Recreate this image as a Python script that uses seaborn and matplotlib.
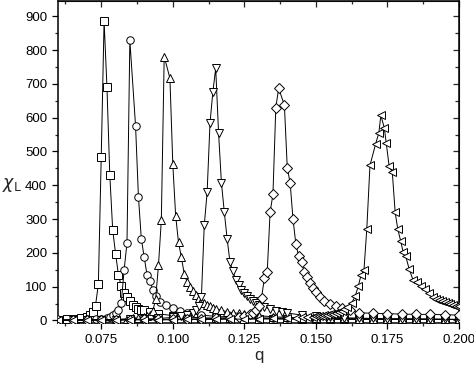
import matplotlib
matplotlib.use("Agg")
import matplotlib.pyplot as plt
import seaborn as sns
import numpy as np

# ---- data ----
q_sq = [0.060, 0.063, 0.066, 0.068, 0.070, 0.071, 0.072, 0.073, 0.074, 0.075, 0.076, 0.077, 0.078, 0.079,
        0.080, 0.081, 0.082, 0.083, 0.084, 0.085, 0.086, 0.087, 0.088, 0.089, 0.090, 0.092, 0.095, 0.100,
        0.105, 0.110, 0.115, 0.120, 0.125, 0.130, 0.135, 0.140, 0.145, 0.150, 0.155, 0.160, 0.165, 0.170,
        0.175, 0.180, 0.185, 0.190, 0.195, 0.200]
chi_sq = [2, 3, 4, 6, 10, 17, 25, 44, 108, 484, 886, 690, 429, 269, 198, 136, 101, 81, 68, 58, 47, 40, 35,
          32, 30, 25, 20, 14, 10, 8, 7, 6, 5, 5, 4, 4, 4, 3, 3, 3, 3, 3, 3, 3, 3, 3, 3, 3]

q_ci = [0.060, 0.065, 0.070, 0.073, 0.075, 0.077, 0.078, 0.079, 0.080, 0.081, 0.082, 0.083, 0.084, 0.085,
        0.087, 0.088, 0.089, 0.090, 0.091, 0.092, 0.093, 0.094, 0.0955, 0.0975, 0.100, 0.1025, 0.105,
        0.110, 0.115, 0.120, 0.125, 0.130, 0.135, 0.140, 0.145, 0.150, 0.155, 0.160, 0.165, 0.170, 0.175,
        0.180, 0.185, 0.190, 0.195, 0.200]
chi_ci = [1, 2, 3, 4, 5, 8, 11, 16, 22, 30, 52, 150, 229, 829, 575, 366, 242, 188, 135, 118, 91, 71, 56,
          45, 36, 28, 22, 16, 12, 10, 9, 8, 7, 6, 6, 5, 5, 5, 4, 4, 4, 4, 4, 3, 3, 3]

q_up = [0.060, 0.065, 0.070, 0.075, 0.080, 0.084, 0.086, 0.088, 0.090, 0.091, 0.092, 0.093, 0.094, 0.095,
        0.096, 0.097, 0.099, 0.100, 0.101, 0.102, 0.103, 0.104, 0.105, 0.106, 0.107, 0.108, 0.109, 0.110,
        0.111, 0.112, 0.113, 0.114, 0.115, 0.117, 0.119, 0.121, 0.123, 0.125, 0.130, 0.135, 0.140, 0.145,
        0.150, 0.155, 0.160, 0.165, 0.170, 0.175, 0.180, 0.185, 0.190, 0.195, 0.200]
chi_up = [1, 1, 2, 2, 3, 5, 6, 8, 11, 13, 17, 27, 63, 163, 297, 781, 717, 464, 310, 231, 187, 138, 113, 99,
          86, 76, 66, 58, 52, 46, 42, 38, 35, 30, 26, 23, 21, 19, 14, 11, 9, 8, 7, 6, 6, 5, 5, 4, 4, 4, 4, 3, 3]

q_dn = [0.060, 0.065, 0.070, 0.075, 0.080, 0.085, 0.090, 0.095, 0.100, 0.103, 0.105, 0.107, 0.108, 0.109,
        0.110, 0.111, 0.112, 0.113, 0.114, 0.115, 0.116, 0.117, 0.118, 0.119, 0.120, 0.121, 0.122, 0.123,
        0.124, 0.125, 0.126, 0.127, 0.128, 0.129, 0.130, 0.132, 0.134, 0.136, 0.138, 0.140, 0.145, 0.150,
        0.155, 0.160, 0.165, 0.170, 0.175, 0.180, 0.185, 0.190, 0.195, 0.200]
chi_dn = [1, 1, 1, 2, 2, 3, 4, 6, 9, 12, 16, 23, 30, 42, 69, 282, 379, 583, 676, 746, 555, 407, 321, 241,
          172, 145, 121, 106, 91, 81, 71, 63, 57, 52, 47, 40, 34, 29, 25, 22, 16, 12, 9, 8, 7, 6, 5, 5, 4,
          4, 4, 3]

q_di = [0.060, 0.065, 0.070, 0.075, 0.080, 0.085, 0.090, 0.095, 0.100, 0.105, 0.110, 0.115, 0.120, 0.123,
        0.125, 0.127, 0.128, 0.129, 0.130, 0.131, 0.132, 0.133, 0.134, 0.135, 0.136, 0.137, 0.139, 0.140,
        0.141, 0.142, 0.143, 0.144, 0.145, 0.146, 0.147, 0.148, 0.149, 0.150, 0.1515, 0.153, 0.155, 0.157,
        0.159, 0.162, 0.165, 0.170, 0.175, 0.180, 0.185, 0.190, 0.195, 0.200]
chi_di = [1, 1, 1, 2, 2, 2, 3, 3, 4, 4, 5, 6, 8, 11, 14, 19, 23, 30, 42, 66, 125, 143, 320, 373, 630, 687,
          637, 452, 407, 301, 226, 190, 173, 142, 129, 111, 96, 83, 69, 59, 50, 43, 37, 30, 23, 21, 20, 19,
          18, 18, 17, 16]

q_lt = [0.060, 0.065, 0.070, 0.075, 0.080, 0.085, 0.090, 0.095, 0.100, 0.105, 0.110, 0.115, 0.120, 0.125,
        0.130, 0.135, 0.140, 0.143, 0.145, 0.147, 0.149, 0.150, 0.151, 0.152, 0.153, 0.154, 0.155, 0.156,
        0.157, 0.158, 0.159, 0.160, 0.161, 0.1625, 0.1637, 0.1648, 0.1658, 0.1668, 0.1678, 0.1689, 0.1709,
        0.1720, 0.1727, 0.1739, 0.1746, 0.1756, 0.1767, 0.1777, 0.1786, 0.1796, 0.1805, 0.1814, 0.1826,
        0.1839, 0.1852, 0.1866, 0.1881, 0.1896, 0.1910, 0.1920, 0.1930, 0.1940, 0.1950, 0.1960, 0.1970,
        0.1980, 0.1990, 0.2000]
chi_lt = [1, 1, 1, 1, 1, 2, 2, 2, 2, 3, 3, 3, 4, 4, 5, 6, 7, 8, 9, 10, 11, 12, 13, 14, 15, 16, 18, 20, 22,
          25, 29, 34, 41, 52, 71, 101, 135, 148, 272, 459, 523, 555, 607, 570, 524, 456, 439, 320, 271, 236,
          202, 190, 152, 121, 113, 103, 93, 81, 68, 64, 60, 57, 54, 51, 49, 46, 44, 42]

x_ticks = [0.075, 0.100, 0.125, 0.150, 0.175, 0.200]
y_ticks = [0, 100, 200, 300, 400, 500, 600, 700, 800, 900]

series = [(q_sq, chi_sq, "s"), (q_ci, chi_ci, "o"), (q_up, chi_up, "^"),
          (q_dn, chi_dn, "v"), (q_di, chi_di, "D"), (q_lt, chi_lt, "<")]

# ---- style ----
sns.set_style("ticks")
plt.rcParams["font.family"] = ["Liberation Sans", "DejaVu Sans"]
plt.rcParams["mathtext.fontset"] = "dejavusans"

fig = plt.figure(figsize=(4.74, 3.66), dpi=100)
ax = fig.add_axes([0.123, 0.117, 0.8453, 0.881])

for q, chi, m in series:
    ms = 5.4 if m != "D" else 4.7
    sns.lineplot(x=q, y=chi, ax=ax, color="black", linewidth=0.7, marker=m,
                 markersize=ms, markerfacecolor="white", markeredgecolor="black",
                 markeredgewidth=0.7, sort=False, estimator=None, zorder=3)

ax.set_xlim(0.06, 0.2)
ax.set_ylim(-8, 946)
ax.set_xticks(x_ticks)
ax.set_xticklabels([f"{t:.3f}" for t in x_ticks])
ax.set_yticks(y_ticks)
ax.xaxis.set_minor_locator(matplotlib.ticker.MultipleLocator(0.0125))
ax.yaxis.set_minor_locator(matplotlib.ticker.MultipleLocator(50))
ax.tick_params(which="major", direction="out", length=4, width=0.9, labelsize=9.5, pad=4, colors="black")
ax.tick_params(which="minor", direction="out", length=2.3, width=0.9)
for s in ax.spines.values():
    s.set_linewidth(1.1)
    s.set_color("black")

top = ax.secondary_xaxis("top")
top.set_xticks(x_ticks)
top.xaxis.set_minor_locator(matplotlib.ticker.MultipleLocator(0.0125))
top.tick_params(which="major", direction="in", length=4, width=0.9, labeltop=False)
top.tick_params(which="minor", direction="in", length=2.3, width=0.9)
right = ax.secondary_yaxis("right")
right.set_yticks(y_ticks)
right.yaxis.set_minor_locator(matplotlib.ticker.MultipleLocator(50))
right.tick_params(which="major", direction="in", length=4, width=0.9, labelright=False)
right.tick_params(which="minor", direction="in", length=3, width=0.9)

ax.set_xlabel("q", fontsize=12, labelpad=1)
ax.set_ylabel("")
fig.text(0.024, 1 - 185 / 366, r"$\chi_{\mathrm{L}}$", fontsize=12.5, ha="center", va="center")

fig.savefig("out.png", dpi=100)
